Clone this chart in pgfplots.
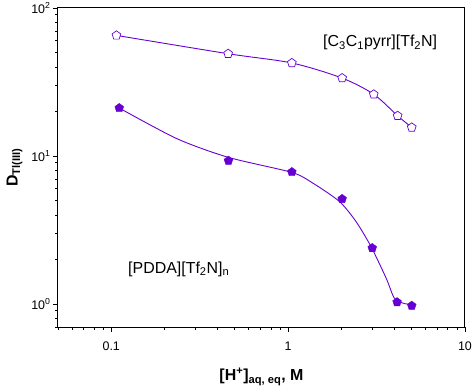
\documentclass[border=0pt]{standalone}
\usepackage{fontspec}
\setmainfont{Liberation Sans}
\usepackage{pgfplots}
\pgfplotsset{compat=1.18}
\definecolor{pur}{RGB}{102,0,210}
\begin{document}
\begin{tikzpicture}
\begin{axis}[
  scale only axis, width=407bp, height=319bp,
  xmode=log, ymode=log,
  xmin=0.05, xmax=10, ymin=0.7, ymax=100,
  xtick={0.1,1,10}, xticklabels={0.1,1,10},
  ytick={1,10,100}, yticklabels={{10\textsuperscript{0}},{10\textsuperscript{1}},{10\textsuperscript{2}}},
  minor xtick={0.05,0.06,0.07,0.08,0.09,0.2,0.3,0.4,0.5,0.6,0.7,0.8,0.9,2,3,4,5,6,7,8,9},
  minor ytick={0.7,0.8,0.9,2,3,4,5,6,7,8,9,20,30,40,50,60,70,80,90},
  tick align=outside, xtick pos=bottom, ytick pos=left,
  major tick length=5bp, minor tick length=3bp,
  every tick/.style={black, line width=0.8pt},
  axis line style={line width=1pt},
  tick label style={font=\fontsize{12.5}{14}\selectfont},
  xticklabel style={yshift=-6bp},
  yticklabel style={xshift=1bp},
  xlabel={\bfseries [H\textsuperscript{+}]\textsubscript{aq, eq}, M},
  ylabel={\bfseries D\textsubscript{Tl(III)}},
  label style={font=\fontsize{16}{18}\selectfont},
  xlabel style={yshift=-11bp},
  ylabel style={yshift=2bp},
]
% upper: [C3C1pyrr][Tf2N]
\addplot[pur, line width=0.9pt, smooth, tension=0.5, mark=pentagon*, mark size=4.6bp,
  mark options={fill=white, draw=pur, line width=0.7pt}]
  coordinates {(0.107,65.3) (0.458,49.1) (1.05,42.5) (2.02,33.6) (3.05,26.1) (4.16,18.7) (5.0,15.6)};
% lower curve (fit)
\addplot[pur, line width=0.9pt, smooth, tension=0.45, no marks]
  coordinates {(0.111,21.1) (0.235,13.1) (0.46,9.79) (1.05,7.75) (1.377,6.57) (1.95,4.93) (2.42,3.61) (2.94,2.45) (3.58,1.50) (3.98,1.10) (4.44,1.016) (5.0,0.99)};
% lower points: [PDDA][Tf2N]n
\addplot[only marks, mark=pentagon*, mark size=4.6bp, mark options={fill=pur, draw=pur}]
  coordinates {(0.111,21.1) (0.46,9.3) (1.05,7.8) (2.02,5.13) (2.99,2.39) (4.13,1.03) (5.0,0.975)};
\node[anchor=base west, font=\fontsize{16}{18}\selectfont, inner sep=0pt] at (rel axis cs:0.651,0.879)
  {[C\textsubscript{3}C\textsubscript{1}pyrr][Tf\textsubscript{2}N]};
\node[anchor=base west, font=\fontsize{16}{18}\selectfont, inner sep=0pt] at (rel axis cs:0.172,0.169)
  {[PDDA][Tf\textsubscript{2}N]\textsubscript{n}};
\end{axis}
\pgfresetboundingbox
\path[use as bounding box] (-58bp,-61bp) rectangle (416bp,327bp);
\end{tikzpicture}
\end{document}
